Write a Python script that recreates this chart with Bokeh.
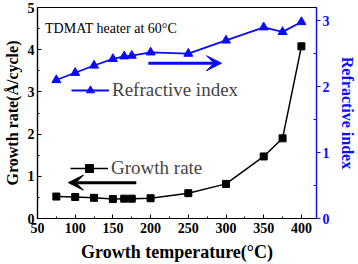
from bokeh.plotting import figure
from bokeh.models import (Range1d, LinearAxis, FixedTicker, Arrow, VeeHead,
                          Label, Legend, LegendItem)
from bokeh.embed import file_html
from bokeh.resources import INLINE

# Growth temperature (°C)
temperature = [75, 100, 125, 150, 165, 175, 200, 250, 300, 350, 375, 400]
# Growth rate (Å/cycle)
growth_rate = [0.52, 0.51, 0.49, 0.46, 0.47, 0.47, 0.48, 0.60, 0.82, 1.47, 1.90, 4.08]
# Refractive index
refractive_index = [2.10, 2.21, 2.32, 2.42, 2.46, 2.47, 2.52, 2.50, 2.70, 2.90, 2.83, 2.98]

x_ticks = [50, 100, 150, 200, 250, 300, 350, 400]
left_ticks = [0, 1, 2, 3, 4, 5]
right_ticks = [0, 1, 2, 3]

BLUE = "#0a0aff"
SERIF = "Liberation Serif"

p = figure(width=358, height=264, output_backend="svg", toolbar_location=None,
           x_range=Range1d(50, 420), y_range=Range1d(0, 5),
           min_border_left=34, min_border_right=35, min_border_top=7,
           min_border_bottom=45)
p.extra_y_ranges = {"ri": Range1d(0, 3.2)}
p.grid.visible = False
p.outline_line_color = "black"
p.outline_line_width = 1.2
p.background_fill_color = "white"
p.border_fill_color = "white"

def style_axis(ax, color):
    ax.axis_line_color = color
    ax.axis_line_width = 1.2
    ax.major_tick_line_color = color
    ax.minor_tick_line_color = color
    ax.major_label_text_color = color
    ax.axis_label_text_color = color
    ax.major_label_text_font = SERIF
    ax.major_label_text_font_style = "bold"
    ax.major_label_text_font_size = "14px"
    ax.axis_label_text_font = SERIF
    ax.axis_label_text_font_style = "bold"
    ax.axis_label_text_font_size = "16px"

# bottom axis
xa = p.xaxis[0]
xa.ticker = FixedTicker(ticks=x_ticks, minor_ticks=list(range(50, 425, 25)))
xa.axis_label = "Growth temperature(°C)"
style_axis(xa, "black")
xa.axis_label_text_font_size = "18px"
xa.major_tick_in, xa.major_tick_out = 4, 0
xa.minor_tick_in, xa.minor_tick_out = 2, 0
xa.major_label_standoff = 4
xa.axis_label_standoff = 6

# left axis
ya = p.yaxis[0]
ya.ticker = FixedTicker(ticks=left_ticks, minor_ticks=[v / 2 for v in range(0, 11)])
ya.axis_label = "Growth rate(Å/cycle)"
style_axis(ya, "black")
ya.major_tick_in, ya.major_tick_out = 4, 0
ya.minor_tick_in, ya.minor_tick_out = 2, 0
ya.major_label_standoff = 3
ya.axis_label_standoff = 4

# right axis
ra = LinearAxis(y_range_name="ri", axis_label="Refractive index")
ra.ticker = FixedTicker(ticks=right_ticks, minor_ticks=[0.5, 1.5, 2.5])
style_axis(ra, BLUE)
ra.major_tick_in, ra.major_tick_out = 0, 4
ra.minor_tick_in, ra.minor_tick_out = 3, 0
ra.major_label_standoff = 2
ra.axis_label_standoff = 6
p.add_layout(ra, "right")

# growth rate series
gl = p.line(temperature, growth_rate, line_color="black", line_width=1.5)
gs = p.scatter(temperature, growth_rate, marker="square", size=7,
               fill_color="black", line_color="black")

# refractive index series
rl = p.line(temperature, refractive_index, y_range_name="ri",
            line_color=BLUE, line_width=1.8)
rs = p.scatter(temperature, refractive_index, y_range_name="ri",
               marker="triangle", size=9, fill_color=BLUE, line_color=BLUE)

# in-plot legends
def make_legend(label, renderers, loc):
    lg = Legend(items=[LegendItem(label=label, renderers=renderers)],
                location=loc, glyph_width=38, glyph_height=20,
                label_standoff=3, padding=0, margin=0, spacing=0,
                border_line_alpha=0, background_fill_alpha=0,
                label_text_font=SERIF, label_text_font_size="19px",
                label_height=20)
    p.add_layout(lg)

make_legend("Refractive index", [rl, rs], (34, 117))
make_legend("Growth rate", [gl, gs], (33, 39))

# direction arrows
p.add_layout(Arrow(end=VeeHead(size=15, fill_color=BLUE, line_color=BLUE),
                   x_start=197, y_start=3.68, x_end=294, y_end=3.68,
                   line_color=BLUE, line_width=3))
p.add_layout(Arrow(end=VeeHead(size=15, fill_color="black", line_color="black"),
                   x_start=181, y_start=0.85, x_end=91, y_end=0.85,
                   line_color="black", line_width=3))

p.add_layout(Label(x=60, y=4.5, text="TDMAT heater at 60°C",
                   text_font=SERIF, text_font_size="14px",
                   text_baseline="middle", text_color="black"))

open("out.html", "w").write(file_html(p, INLINE))
